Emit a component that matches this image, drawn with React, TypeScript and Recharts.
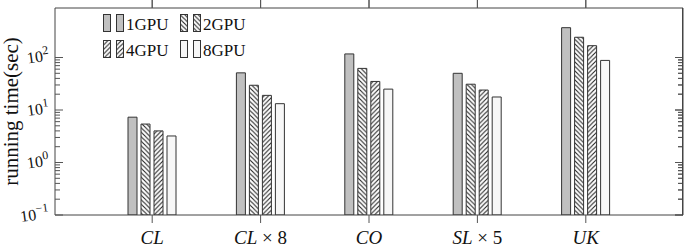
import React from 'react';
import { BarChart, Bar, XAxis, YAxis, CartesianGrid, ReferenceLine } from 'recharts';

const categories = ['CL', 'CL×8', 'CO', 'SL×5', 'UK'];
const gpu1 = [7.3, 51, 117, 50, 370];
const gpu2 = [5.4, 29.6, 62, 31, 243];
const gpu4 = [4.0, 19, 35, 24, 168];
const gpu8 = [3.2, 13.2, 25, 17.7, 88];
const seriesNames = ['1GPU', '2GPU', '4GPU', '8GPU'];
const majorTicks = [0.1, 1, 10, 100];
const majorExp = ['−1', '0', '1', '2'];
const minorTicks = [
  0.2, 0.3, 0.4, 0.5, 0.6, 0.7, 0.8, 0.9,
  2, 3, 4, 5, 6, 7, 8, 9,
  20, 30, 40, 50, 60, 70, 80, 90,
];
const yMax = 877;
const yLabel = 'running time(sec)';

const data = categories.map((c, i) => ({
  cat: c,
  g1: gpu1[i],
  g2: gpu2[i],
  g4: gpu4[i],
  g8: gpu8[i],
}));

const allTicks = [...majorTicks, ...minorTicks].sort((a, b) => a - b);
const isMajorVal = (v: number) => majorTicks.some((m) => Math.abs(m - v) / m < 1e-6);

const CHART_W = 685;
const CHART_H = 247;
const MARGIN = { top: 8, right: 2, left: 0, bottom: 0 };
const YAXIS_W = 55;
const XAXIS_H = 32;
const PLOT_W = CHART_W - YAXIS_W - MARGIN.right - MARGIN.left;
const PLOT_H = CHART_H - MARGIN.top - MARGIN.bottom - XAXIS_H;

const FONT = '"Liberation Serif", serif';
const fills = ['#c0c0c0', 'url(#hatchBack)', 'url(#hatchFwd)', '#f7f7f7'];
const STROKE = '#333';
const TICK_C = '#555';

const YTick = (props: any) => {
  const { x, y, payload } = props;
  const v = payload.value;
  const idx = majorTicks.findIndex((m) => Math.abs(m - v) / m < 1e-6);
  const isMajor = idx >= 0;
  const len = isMajor ? 8 : 5;
  const rx = Number(x) + PLOT_W;
  return (
    <g>
      <line x1={x} x2={x + len} y1={y} y2={y} stroke={TICK_C} strokeWidth={1} />
      <line x1={rx} x2={rx - len} y1={y} y2={y} stroke={TICK_C} strokeWidth={1} />
      {isMajor ? (
        <text
          x={x - 6}
          y={y + 5}
          textAnchor="end"
          fontFamily={FONT}
          fontSize={16}
          fill="#111"
          transform={`rotate(-8 ${x - 20} ${y})`}
        >
          10
          <tspan fontSize={12} dy={-7}>
            {majorExp[idx]}
          </tspan>
        </text>
      ) : null}
    </g>
  );
};

const XTick = (props: any) => {
  const { x, y, payload } = props;
  const parts = String(payload.value).split('×');
  return (
    <g>
      <line x1={x} x2={x} y1={0} y2={MARGIN.top} stroke={TICK_C} strokeWidth={1} />
      <text x={x} y={y + 19} textAnchor="middle" fontFamily={FONT} fontSize={19} fill="#111">
        <tspan fontStyle="italic">{parts[0]}</tspan>
        {parts.length > 1 ? <tspan>{' × ' + parts[1]}</tspan> : null}
      </text>
    </g>
  );
};

const rightTickShape = (len: number) => (p: any) => {
  const xr = Math.max(Number(p.x1), Number(p.x2));
  const yy = Number(p.y1);
  return <line x1={xr} x2={xr - len} y1={yy} y2={yy} stroke={TICK_C} strokeWidth={1} />;
};

const topTickShape = (p: any) => {
  const top = Math.min(Number(p.y1), Number(p.y2));
  const xx = Number(p.x1);
  return <line x1={xx} x2={xx} y1={top - 8} y2={top} stroke={TICK_C} strokeWidth={1} />;
};

const YLabel = (props: any) => {
  const vb = props.viewBox || { x: 0, y: 8, width: 55, height: 207 };
  const cx = 18;
  const cy = vb.y + vb.height / 2;
  return (
    <text
      x={cx}
      y={cy}
      transform={`rotate(-90 ${cx} ${cy})`}
      textAnchor="middle"
      fontFamily={FONT}
      fontSize={21}
      fill="#111"
    >
      {yLabel}
    </text>
  );
};

const LegendBox = () => {
  const rows = [
    [0, 1],
    [2, 3],
  ];
  return (
    <svg width={170} height={52} style={{ position: 'absolute', left: 103, top: 14 }}>
      {rows.map((r, ri) =>
        r.map((si, ci) => {
          const x0 = ci * 77;
          const y0 = ri * 26;
          return (
            <g key={si}>
              <rect x={x0 + 0.5} y={y0 + 0.5} width={7} height={17} fill={fills[si]} stroke={STROKE} />
              <rect x={x0 + 13.5} y={y0 + 0.5} width={7} height={17} fill={fills[si]} stroke={STROKE} />
              <text x={x0 + 23} y={y0 + 16} fontFamily={FONT} fontSize={17} fill="#111">
                {seriesNames[si]}
              </text>
            </g>
          );
        })
      )}
    </svg>
  );
};

export default function App() {
  return (
    <div style={{ position: 'fixed', left: 0, top: 0, width: CHART_W, height: CHART_H, background: '#fff', overflow: 'hidden' }}>
      <style>{'html,body{margin:0;padding:0;overflow:hidden;}'}</style>
      <svg width={0} height={0} style={{ position: 'absolute' }}>
        <defs>
          <pattern id="hatchBack" patternUnits="userSpaceOnUse" width={4.5} height={4.5}>
            <rect width={4.5} height={4.5} fill="#fff" />
            <path d="M-1,3.5 l2,2 M0,0 l4.5,4.5 M3.5,-1 l2,2" stroke="#222" strokeWidth={1.1} />
          </pattern>
          <pattern id="hatchFwd" patternUnits="userSpaceOnUse" width={4.5} height={4.5}>
            <rect width={4.5} height={4.5} fill="#fff" />
            <path d="M-1,1 l2,-2 M0,4.5 l4.5,-4.5 M3.5,5.5 l2,-2" stroke="#222" strokeWidth={1.1} />
          </pattern>
        </defs>
      </svg>
      <BarChart
        width={CHART_W}
        height={CHART_H}
        data={data}
        margin={MARGIN}
        barSize={9}
        barGap={4}
      >
        <CartesianGrid
          stroke="#444"
          strokeWidth={1}
          horizontalCoordinatesGenerator={(p: any) => [p.offset.top]}
          verticalCoordinatesGenerator={(p: any) => [
            p.offset && p.offset.width != null
              ? p.offset.left + p.offset.width
              : p.width - p.offset.right,
          ]}
        />
        <XAxis
          dataKey="cat"
          height={XAXIS_H}
          padding={{ left: 43, right: 43 }}
          tick={<XTick />}
          tickSize={8}
          tickLine={{ stroke: TICK_C }}
          axisLine={{ stroke: '#444' }}
          interval={0}
        />
        <YAxis
          type="number"
          scale="log"
          domain={[0.1, yMax]}
          allowDataOverflow
          ticks={allTicks}
          interval={0}
          width={YAXIS_W}
          tickSize={0}
          tickMargin={0}
          tickLine={false}
          axisLine={{ stroke: '#444' }}
          tick={<YTick />}
          label={<YLabel />}
        />
        {allTicks.map((v) => (
          <ReferenceLine
            key={'rt' + v}
            y={v}
            ifOverflow="visible"
            shape={rightTickShape(isMajorVal(v) ? 8 : 5)}
          />
        ))}
        {categories.map((c) => (
          <ReferenceLine key={'tt' + c} x={c} ifOverflow="visible" shape={topTickShape} />
        ))}
        <Bar dataKey="g1" name="1GPU" fill={fills[0]} stroke={STROKE} isAnimationActive={false} />
        <Bar dataKey="g2" name="2GPU" fill={fills[1]} stroke={STROKE} isAnimationActive={false} />
        <Bar dataKey="g4" name="4GPU" fill={fills[2]} stroke={STROKE} isAnimationActive={false} />
        <Bar dataKey="g8" name="8GPU" fill={fills[3]} stroke={STROKE} isAnimationActive={false} />
      </BarChart>
      <div
        style={{
          position: 'absolute',
          left: YAXIS_W,
          top: MARGIN.top,
          width: PLOT_W,
          height: PLOT_H,
          borderRight: '1px solid #444',
          boxSizing: 'border-box',
          pointerEvents: 'none',
        }}
      />
      <LegendBox />
    </div>
  );
}
